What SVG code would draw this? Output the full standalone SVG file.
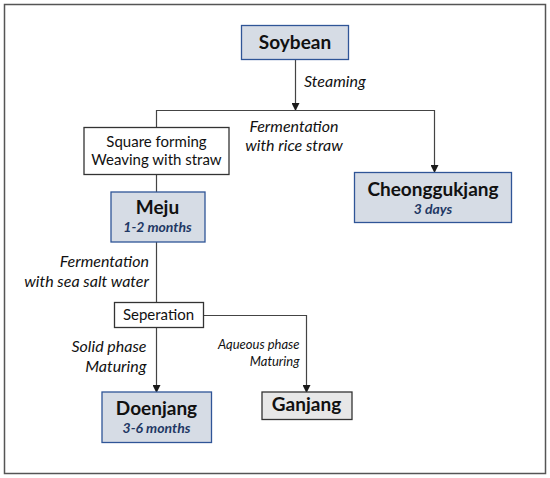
<svg xmlns="http://www.w3.org/2000/svg" width="550" height="478" viewBox="0 0 550 478">
<defs>
<marker id="ah" markerWidth="8" markerHeight="8" refX="7" refY="4" orient="auto" markerUnits="userSpaceOnUse">
<path d="M0,0 L8,4 L0,8 Z" fill="#1a1a1a"/>
</marker>
<style>
text{font-family:Lato,"Open Sans","Liberation Sans",sans-serif;fill:#111}
.frame{fill:#fff;stroke:#555;stroke-width:1.5}
.main{fill:#d6dce5;stroke:#2f5597;stroke-width:1.3}
.plain{fill:#fff;stroke:#333;stroke-width:1.3}
.grey{fill:#e7e7e7;stroke:#333;stroke-width:1.3}
.h{font-weight:bold;font-size:19px;text-anchor:middle}
.sub{font-weight:bold;font-style:italic;font-size:14px;text-anchor:middle;fill:#1f3864}
.t{font-size:15px;text-anchor:middle}
.lab{font-style:italic;font-size:16px}
.small{font-style:italic;font-size:13px;text-anchor:end}
.c line,.c path{stroke:#444;stroke-width:1.2;fill:none}
</style>
</defs>
<rect class="frame" x="4.5" y="4.5" width="541" height="469"/>
<g class="c" id="connectors">
<line x1="295.5" y1="59" x2="295.5" y2="110" marker-end="url(#ah)"/>
<path d="M156.5,127 V110.5 H434.5 V172" marker-end="url(#ah)"/>
<line x1="156.5" y1="175" x2="156.5" y2="192"/>
<line x1="156.5" y1="242" x2="156.5" y2="302"/>
<line x1="156.5" y1="327" x2="156.5" y2="392" marker-end="url(#ah)"/>
<path d="M203,315.5 H306.5 V392" marker-end="url(#ah)"/>
</g>
<g id="labels">
<text class="lab" x="304" y="87">Steaming</text>
<text class="lab" x="294" y="132" text-anchor="middle">Fermentation</text>
<text class="lab" x="294" y="151" text-anchor="middle">with rice straw</text>
<text class="lab" x="149" y="267" text-anchor="end">Fermentation</text>
<text class="lab" x="149" y="287" text-anchor="end">with sea salt water</text>
<text class="lab" x="146.5" y="352" text-anchor="end">Solid phase</text>
<text class="lab" x="146.5" y="372" text-anchor="end">Maturing</text>
<text class="small" x="299.5" y="349">Aqueous phase</text>
<text class="small" x="299.5" y="366">Maturing</text>
</g>
<g id="soybean">
<rect class="main" x="241.5" y="25.5" width="107" height="34"/>
<text class="h" x="295" y="49">Soybean</text>
</g>
<g id="square">
<rect class="plain" x="84" y="127.5" width="145" height="47"/>
<text class="t" x="156.5" y="147">Square forming</text>
<text class="t" x="156.5" y="165">Weaving with straw</text>
</g>
<g id="cheonggukjang">
<rect class="main" x="354.5" y="172.5" width="157" height="50"/>
<text class="h" x="433" y="196">Cheonggukjang</text>
<text class="sub" x="433" y="213.5">3 days</text>
</g>
<g id="meju">
<rect class="main" x="111" y="192" width="94" height="50"/>
<text class="h" x="157.5" y="214">Meju</text>
<text class="sub" x="157.5" y="232">1-2 months</text>
</g>
<g id="seperation">
<rect class="plain" x="114.5" y="302.5" width="89" height="25"/>
<text class="t" x="158.5" y="319.5">Seperation</text>
</g>
<g id="doenjang">
<rect class="main" x="102" y="392" width="109.5" height="50.5"/>
<text class="h" x="156.5" y="415">Doenjang</text>
<text class="sub" x="156.5" y="433">3-6 months</text>
</g>
<g id="ganjang">
<rect class="grey" x="262" y="392" width="90" height="27.5"/>
<text class="h" x="306.5" y="411">Ganjang</text>
</g>
</svg>
